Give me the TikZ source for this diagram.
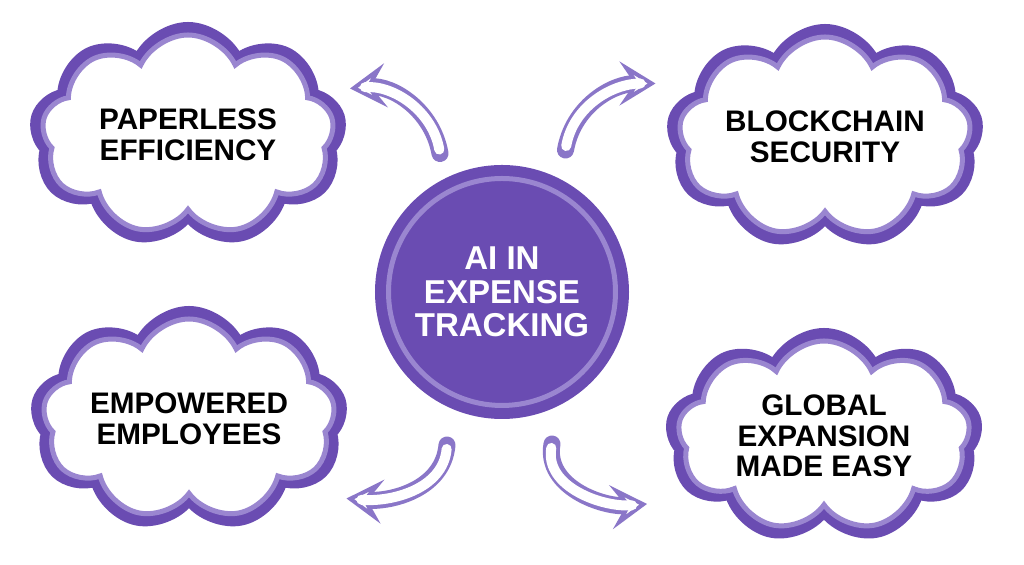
\documentclass[tikz,border=0pt]{standalone}
\usepackage{fontspec}
\setmainfont{Liberation Sans}
\usepackage{xcolor}
\usepackage{tikz}
\usetikzlibrary{shapes.symbols, arrows.meta}
\definecolor{deeppurple}{HTML}{6A4CB2}
\definecolor{softpurple}{HTML}{9A86D0}
\definecolor{arrowpurple}{HTML}{8A76C8}
\tikzstyle{puff}    = [cloud, cloud puffs=9, cloud puff arc=130, cloud ignores aspect, draw=deeppurple, fill=white,
                       line width=0.22cm, minimum width=6.14cm, minimum height=4.30cm, inner sep=0pt, align=center,
                       font=\bfseries\fontsize{16.9}{17.4}\selectfont]
\tikzstyle{puffrim} = [cloud, cloud puffs=9, cloud puff arc=130, cloud ignores aspect, draw=softpurple,
                       line width=0.1cm, minimum width=5.84cm, minimum height=4.00cm, inner sep=0pt]
\tikzstyle{hub}     = [circle, fill=deeppurple, draw=deeppurple, double=softpurple, double distance=0.1cm,
                       line width=0.22cm, minimum size=4.54cm, inner sep=0pt, text=white, align=center,
                       font=\bfseries\fontsize{18.8}{19.2}\selectfont]
\tikzstyle{swoosh}  = [draw=arrowpurple, line width=0.34cm, line cap=round,
                       -{Stealth[length=0.72cm, width=0.88cm, inset=0.3cm, line width=0.08cm, fill=white]},
                       postaction={draw=white, line width=0.2cm, -, shorten <=0.08cm, shorten >=0.3cm}]

\begin{document}
\begin{tikzpicture}
    \useasboundingbox[fill=white] (0, 0) rectangle (20.48, 11.30);

    \node (hub)    at (10.04, 5.46) [hub] {AI IN\\EXPENSE\\TRACKING};

    \node (paper)  at (3.76, 8.60) [puff] {PAPERLESS\\EFFICIENCY};
    \node (chain)  at (16.50, 8.56) [puff] {BLOCKCHAIN\\SECURITY};
    \node (staff)  at (3.78, 2.92) [puff] {EMPOWERED\\EMPLOYEES};
    \node (global) at (16.48, 2.58) [puff, minimum height=4.10cm] {GLOBAL\\EXPANSION\\MADE EASY};

    \node (paperrim)  at (paper.center)  [puffrim] {};
    \node (chainrim)  at (chain.center)  [puffrim] {};
    \node (staffrim)  at (staff.center)  [puffrim] {};
    \node (globalrim) at (global.center) [puffrim, minimum height=3.80cm] {};

    % arrow ends
    \coordinate (tl0) at (8.80, 8.23);   \coordinate (tl1) at (7.00, 9.53);
    \coordinate (tr0) at (11.31, 8.30);  \coordinate (tr1) at (13.11, 9.63);
    \coordinate (bl0) at (8.94, 2.40);   \coordinate (bl1) at (6.93, 1.33);
    \coordinate (br0) at (11.04, 2.42);  \coordinate (br1) at (12.94, 1.22);

    \draw [swoosh] (tl0) to [out=100, in=5]    (tl1);
    \draw [swoosh] (tr0) to [out=80, in=180]   (tr1);
    \draw [swoosh] (bl0) to [out=-95, in=-5]   (bl1);
    \draw [swoosh] (br0) to [out=-100, in=185] (br1);
\end{tikzpicture}
\end{document}
